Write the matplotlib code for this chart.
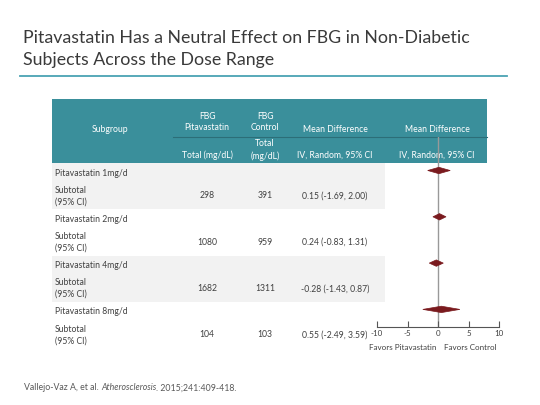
import matplotlib
matplotlib.use("Agg")
import matplotlib.pyplot as plt
from matplotlib.patches import Rectangle, Polygon

plt.rcParams['font.family'] = ['Lato', 'DejaVu Sans']

# ---- data ----
subgroups = ["Pitavastatin 1mg/d", "Pitavastatin 2mg/d", "Pitavastatin 4mg/d", "Pitavastatin 8mg/d"]
n_pitavastatin = [298, 1080, 1682, 104]
n_control = [391, 959, 1311, 103]
md = [0.15, 0.24, -0.28, 0.55]
ci_low = [-1.69, -0.83, -1.43, -2.49]
ci_high = [2.00, 1.31, 0.87, 3.59]
x_ticks = [-10, -5, 0, 5, 10]

W, H = 540, 405
fig = plt.figure(figsize=(W / 100, H / 100), dpi=100)
ax = fig.add_axes([0, 0, 1, 1])
ax.set_xlim(0, W)
ax.set_ylim(H, 0)
ax.axis('off')

TEAL = '#3a8f9b'
DARK = '#404040'
RED = '#7a1a1e'

# title
ax.text(23, 38, "Pitavastatin Has a Neutral Effect on FBG in Non-Diabetic", fontsize=12.8,
        color='#3a3a3a', va='center', ha='left')
ax.text(23, 60, "Subjects Across the Dose Range", fontsize=12.8,
        color='#3a3a3a', va='center', ha='left')
ax.plot([20, 507], [76, 76], color='#4aa3b3', lw=1.3)

# header
ax.add_patch(Rectangle((52, 99), 435, 64, facecolor=TEAL, edgecolor='none'))
ax.plot([173, 487], [137, 137], color='#2c6e78', lw=0.8)
hs = 6.2
ax.text(110, 129, "Subgroup", color='white', fontsize=hs, ha='center', va='center')
ax.text(207, 122, "FBG\nPitavastatin", color='white', fontsize=hs, ha='center', va='center', linespacing=1.4)
ax.text(265, 122, "FBG\nControl", color='white', fontsize=hs, ha='center', va='center', linespacing=1.4)
ax.text(207, 155, "Total (mg/dL)", color='white', fontsize=hs, ha='center', va='center')
ax.text(265, 150, "Total\n(mg/dL)", color='white', fontsize=hs, ha='center', va='center', linespacing=1.4)
ax.text(335, 129, "Mean Difference", color='white', fontsize=hs, ha='center', va='center')
ax.text(335, 155, "IV, Random, 95% CI", color='white', fontsize=hs, ha='center', va='center')
ax.text(437, 129, "Mean Difference", color='white', fontsize=hs, ha='center', va='center')
ax.text(437, 155, "IV, Random, 95% CI", color='white', fontsize=hs, ha='center', va='center')

# rows
row_top0, row_h = 163, 46.3
for i, name in enumerate(subgroups):
    top = row_top0 + i * row_h
    if i % 2 == 0:
        ax.add_patch(Rectangle((52, top), 333, row_h, facecolor='#f2f2f2', edgecolor='none', zorder=0))
    ax.text(55, top + 10, name, fontsize=hs, color=DARK, ha='left', va='center')
    ax.text(55, top + 33, "Subtotal\n(95% CI)", fontsize=hs, color=DARK, ha='left', va='center', linespacing=1.4)
    ax.text(207, top + 33, f"{n_pitavastatin[i]}", fontsize=hs, color=DARK, ha='center', va='center')
    ax.text(265, top + 33, f"{n_control[i]}", fontsize=hs, color=DARK, ha='center', va='center')
    ax.text(335, top + 33, f"{md[i]:.2f} ({ci_low[i]:.2f}, {ci_high[i]:.2f})", fontsize=hs,
            color=DARK, ha='center', va='center')

# forest plot axes: x in effect units, y in pixel units
x0, x1 = 377, 499
y_top, y_axis = 137, 327
axf = fig.add_axes([x0 / W, 1 - y_axis / H, (x1 - x0) / W, (y_axis - y_top) / H])
axf.set_xlim(-10, 10)
axf.set_ylim(y_axis, y_top)
axf.patch.set_alpha(0)
for s in ['top', 'right', 'left']:
    axf.spines[s].set_visible(False)
axf.spines['bottom'].set_color('#555555')
axf.spines['bottom'].set_linewidth(0.8)
axf.set_yticks([])
axf.set_xticks(x_ticks)
axf.set_xticklabels([str(t) for t in x_ticks], fontsize=5.8, color=DARK)
axf.tick_params(axis='x', direction='in', length=4, width=0.8, color='#555555', pad=2)
axf.axvline(0, color='#999999', lw=1.0, zorder=1)
for i in range(len(subgroups)):
    yc = row_top0 + i * row_h + 7.5
    hh = 3.2
    poly = Polygon([[ci_low[i], yc], [md[i], yc - hh], [ci_high[i], yc], [md[i], yc + hh]],
                   closed=True, facecolor=RED, edgecolor=RED, lw=0.5, zorder=3)
    axf.add_patch(poly)

ax.text(403, 347, "Favors Pitavastatin", fontsize=5.8, color=DARK, ha='center', va='center')
ax.text(470, 347, "Favors Control", fontsize=5.8, color=DARK, ha='center', va='center')

# footer
t1 = ax.text(24, 388, "Vallejo-Vaz A, et al. ", fontsize=6.3, color='#595959', ha='left', va='center')
fig.canvas.draw()
bb = t1.get_window_extent()
inv = ax.transData.inverted()
xa = inv.transform((bb.x1, bb.y0))[0]
t2 = ax.text(xa, 388, "Atherosclerosis", fontsize=6.3, color='#595959', ha='left', va='center', style='italic')
fig.canvas.draw()
bb2 = t2.get_window_extent()
xb = inv.transform((bb2.x1, bb2.y0))[0]
ax.text(xb, 388, ". 2015;241:409-418.", fontsize=6.3, color='#595959', ha='left', va='center')

fig.savefig("out.png", dpi=100)
